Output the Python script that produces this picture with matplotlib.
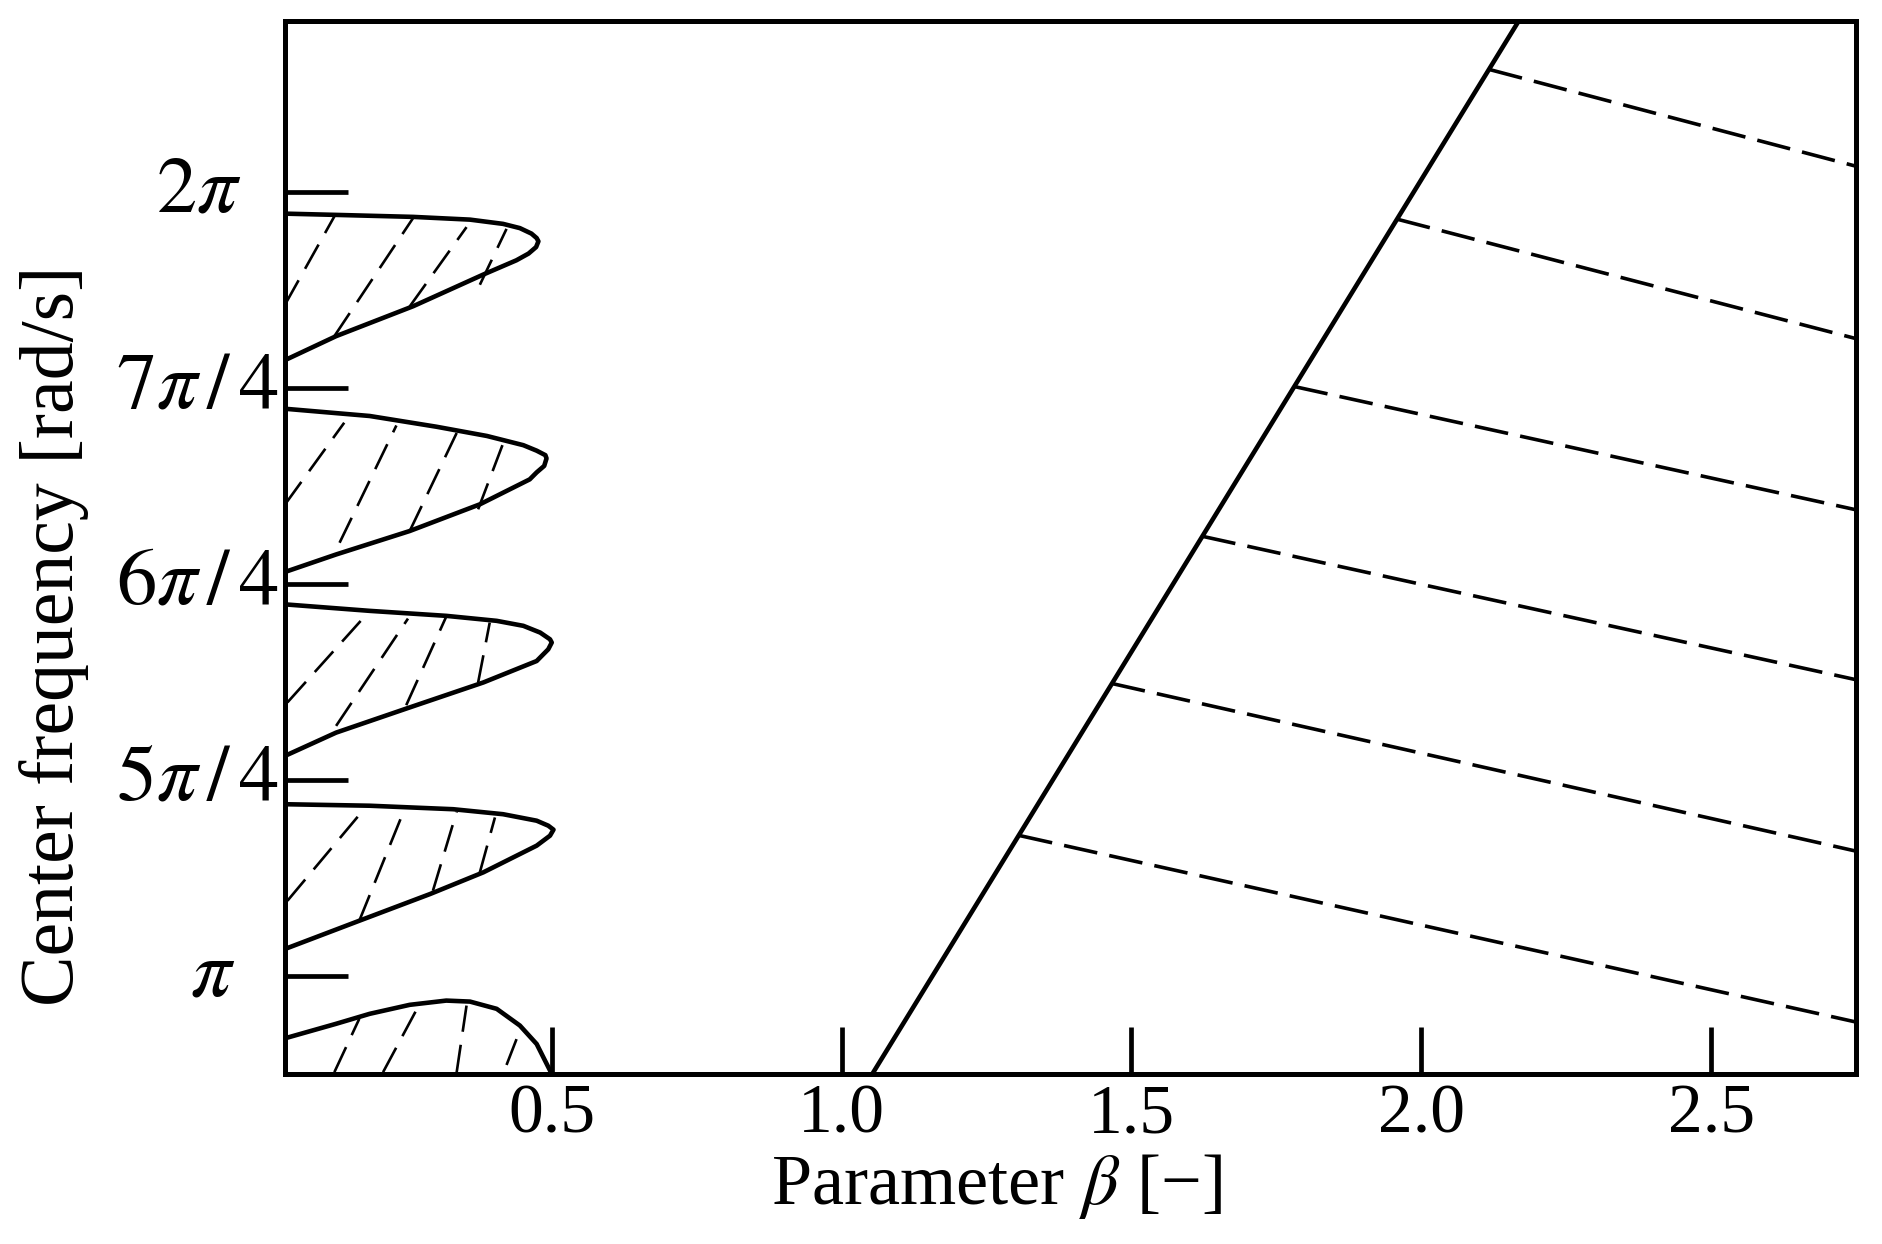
import matplotlib
matplotlib.use("Agg")
import matplotlib.pyplot as plt
import matplotlib.transforms as mtransforms
import numpy as np

plt.rcParams['font.family'] = ['Liberation Serif', 'DejaVu Serif']
plt.rcParams['mathtext.fontset'] = 'stix'

# --- data ------------------------------------------------------------------
# instability lobes: upper branch from the axis to the tip, then back down
lobe1_beta = [0.040, 0.128, 0.261, 0.359, 0.416, 0.445, 0.465, 0.474, 0.477, 0.473, 0.460, 0.439, 0.382, 0.261, 0.128, 0.040]
lobe1_omega = [6.198, 6.193, 6.185, 6.174, 6.157, 6.140, 6.118, 6.100, 6.087, 6.064, 6.038, 6.011, 5.954, 5.827, 5.707, 5.611]

lobe2_beta = [0.040, 0.186, 0.301, 0.388, 0.451, 0.474, 0.489, 0.491, 0.487, 0.474, 0.462, 0.376, 0.255, 0.128, 0.040]
lobe2_omega = [5.416, 5.387, 5.344, 5.307, 5.270, 5.248, 5.230, 5.217, 5.187, 5.161, 5.133, 5.033, 4.926, 4.832, 4.762]

lobe3_beta = [0.040, 0.186, 0.318, 0.405, 0.451, 0.480, 0.497, 0.500, 0.494, 0.474, 0.382, 0.255, 0.128, 0.040]
lobe3_omega = [4.632, 4.606, 4.586, 4.566, 4.546, 4.519, 4.492, 4.479, 4.452, 4.405, 4.319, 4.219, 4.118, 4.025]

lobe4_beta = [0.040, 0.186, 0.330, 0.416, 0.474, 0.494, 0.503, 0.497, 0.474, 0.382, 0.290, 0.168, 0.040]
lobe4_omega = [3.831, 3.825, 3.811, 3.791, 3.765, 3.745, 3.729, 3.705, 3.665, 3.558, 3.471, 3.364, 3.251]

lobe5_beta = [0.040, 0.128, 0.186, 0.255, 0.318, 0.359, 0.405, 0.445, 0.474, 0.500]
lobe5_omega = [2.893, 2.951, 2.991, 3.027, 3.044, 3.040, 3.011, 2.944, 2.870, 2.750]

# hatch segments inside the lobes
hatch_beta0 = [0.040, 0.125, 0.255, 0.376,
               0.040, 0.134, 0.255, 0.373,
               0.044, 0.128, 0.249, 0.373,
               0.044, 0.168, 0.295, 0.376,
               0.125, 0.209, 0.336, 0.422]
hatch_omega0 = [5.834, 5.707, 5.826, 5.913,
                5.033, 4.879, 4.926, 5.013,
                4.239, 4.145, 4.228, 4.319,
                3.444, 3.364, 3.484, 3.558,
                2.757, 2.757, 2.757, 2.786]
hatch_beta1 = [0.125, 0.261, 0.353, 0.422,
               0.142, 0.232, 0.336, 0.419,
               0.186, 0.252, 0.318, 0.393,
               0.174, 0.246, 0.336, 0.402,
               0.168, 0.269, 0.353, 0.445]
hatch_omega1 = [6.187, 6.181, 6.144, 6.137,
                5.360, 5.349, 5.319, 5.295,
                4.606, 4.575, 4.583, 4.559,
                3.805, 3.811, 3.801, 3.778,
                2.971, 3.017, 3.024, 2.924]

# boundary line and the dashed lines leaving it
boundary_beta = [1.053, 2.168]
boundary_omega = [2.750, 6.970]

dash_beta0 = [1.306, 1.466, 1.622, 1.781, 1.958, 2.117]
dash_omega0 = [3.706, 4.315, 4.905, 5.505, 6.176, 6.776]
dash_beta1 = [2.75, 2.75, 2.75, 2.75, 2.75, 2.75]
dash_omega1 = [2.958, 3.643, 4.330, 5.011, 5.697, 6.388]

xticks = [0.5, 1.0, 1.5, 2.0, 2.5]
xtick_labels = ['0.5', '1.0', '1.5', '2.0', '2.5']
yticks = [np.pi, 5 * np.pi / 4, 6 * np.pi / 4, 7 * np.pi / 4, 2 * np.pi]
ytick_labels = [r'$\pi$', r'$5\pi\,/\,4$', r'$6\pi\,/\,4$', r'$7\pi\,/\,4$', r'$2\pi$']
# right end of each y label, in axes fraction
ytick_label_x = [-0.032, -0.004, -0.004, -0.004, -0.028]

lobes = [
	(lobe1_beta, lobe1_omega),
	(lobe2_beta, lobe2_omega),
	(lobe3_beta, lobe3_omega),
	(lobe4_beta, lobe4_omega),
	(lobe5_beta, lobe5_omega),
]

# --- figure ---------------------------------------------------------------
fig = plt.figure(figsize=(18.83, 12.44), dpi=100)
ax = fig.add_axes([0.1514, 0.1367, 0.9857 - 0.1514, 0.9831 - 0.1367])

for b, w in lobes:
	ax.plot(b, w, color='k', lw=3.3, solid_joinstyle='round')

for b0, w0, b1, w1 in zip(hatch_beta0, hatch_omega0, hatch_beta1, hatch_omega1):
	ax.plot([b0, b1], [w0, w1], color='k', lw=1.9, dashes=(10.5, 5.0))

ax.plot(boundary_beta, boundary_omega, color='k', lw=3.3)

for b0, w0, b1, w1 in zip(dash_beta0, dash_omega0, dash_beta1, dash_omega1):
	ax.plot([b0, b1], [w0, w1], color='k', lw=2.6, dashes=(9.4, 3.4))

ax.set_xlim(0.04, 2.75)
ax.set_ylim(2.75, 6.97)

for s in ax.spines.values():
	s.set_linewidth(3.6)

ax.set_xticks(xticks)
ax.set_xticklabels(xtick_labels)
ax.tick_params(axis='x', direction='in', length=34, width=3.4, pad=7, labelsize=50)
ax.set_yticks(yticks)
ax.set_yticklabels([])
ax.tick_params(axis='y', direction='in', length=45, width=3.4)

trans = mtransforms.blended_transform_factory(ax.transAxes, ax.transData)
for x, y, lab in zip(ytick_label_x, yticks, ytick_labels):
	ax.text(x, y, lab, transform=trans, ha='right', va='center', fontsize=58)

ax.set_xlabel(r'Parameter $\beta$ [−]', fontsize=52, va='center')
ax.xaxis.set_label_coords(0.453, -0.107)
ax.set_ylabel('Center frequency [rad/s]', fontsize=54.5, va='center')
ax.yaxis.set_label_coords(-0.147, 0.416)

fig.savefig('out.png', dpi=100)
